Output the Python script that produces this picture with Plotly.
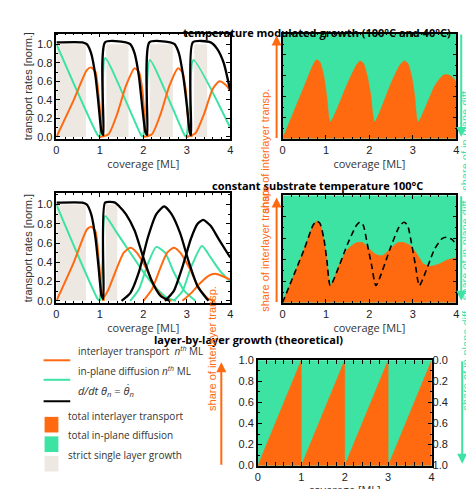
import plotly.graph_objects as go

OR = "#FF6A10"; GR = "#3DE3A3"; BG = "#EEE8E2"
FONT = "Liberation Sans"

# ---------- panel A: temperature modulated (rates) ----------
a_black_x = [0, 0.6, 0.7, 0.8, 0.9, 0.97, 1.04, 1.08, 1.12, 1.6, 1.7, 1.8, 1.9, 1.97, 2.05, 2.09, 2.14, 2.62, 2.72, 2.82, 2.92, 3.0, 3.07, 3.1, 3.14, 3.55, 3.7, 3.85, 4.0]
a_black_y = [1.02, 1.02, 1.0, 0.9, 0.65, 0.35, 0.05, 0.02, 1.02, 1.02, 1.0, 0.9, 0.65, 0.35, 0.05, 0.02, 1.02, 1.02, 1.0, 0.9, 0.65, 0.35, 0.05, 0.02, 1.02, 1.02, 0.95, 0.8, 0.5]
a_green = [
    ([0, 0.95, 1.0], [1.0, 0.02, 0.0]),
    ([1.0, 1.06, 1.12, 1.95, 2.0], [0.0, 0.35, 0.85, 0.02, 0.0]),
    ([2.0, 2.07, 2.15, 2.95, 3.0], [0.0, 0.35, 0.83, 0.02, 0.0]),
    ([3.0, 3.07, 3.15, 4.0], [0.0, 0.35, 0.83, 0.1]),
]
a_orange = [
    ([0, 0.4, 0.7, 0.8, 0.9, 0.97, 1.05, 1.1], [0.0, 0.4, 0.72, 0.75, 0.7, 0.45, 0.08, 0.0]),
    ([1.0, 1.2, 1.4, 1.6, 1.8, 1.9, 1.98, 2.05, 2.12], [0.0, 0.03, 0.25, 0.55, 0.74, 0.7, 0.5, 0.1, 0.0]),
    ([2.0, 2.2, 2.4, 2.6, 2.8, 2.9, 2.98, 3.05, 3.12], [0.0, 0.03, 0.25, 0.55, 0.74, 0.7, 0.5, 0.1, 0.0]),
    ([3.0, 3.2, 3.4, 3.6, 3.75, 3.9, 4.0], [0.0, 0.04, 0.25, 0.52, 0.6, 0.56, 0.5]),
]
a_shade = [(0, 0.68), (1.15, 1.66), (2.15, 2.68), (3.17, 3.47)]

# ---------- panel B: share (temperature modulated) ----------
b_x = [0, 0.5, 0.7, 0.78, 0.86, 0.95, 1.02, 1.1, 1.5, 1.7, 1.78, 1.86, 1.95, 2.03, 2.12, 2.5, 2.7, 2.8, 2.88, 2.97, 3.04, 3.12, 3.5, 3.68, 3.78, 3.9, 4.0]
b_y = [0.0, 0.5, 0.7, 0.75, 0.73, 0.6, 0.4, 0.16, 0.53, 0.7, 0.74, 0.72, 0.6, 0.42, 0.16, 0.53, 0.7, 0.74, 0.72, 0.6, 0.42, 0.16, 0.5, 0.6, 0.61, 0.59, 0.54]

# ---------- panel D: constant temperature (rates) ----------
d_black = [
    ([0, 0.6, 0.7, 0.8, 0.9, 0.97, 1.04, 1.08, 1.12, 1.35, 1.45, 1.6, 1.8, 2.0, 2.2, 2.4, 2.6], [1.02, 1.02, 1.0, 0.9, 0.65, 0.35, 0.05, 0.02, 1.02, 1.02, 0.98, 0.9, 0.73, 0.45, 0.2, 0.05, 0.0]),
    ([1.5, 1.7, 1.9, 2.1, 2.3, 2.48, 2.65, 2.85, 3.05, 3.25, 3.5], [0.0, 0.08, 0.3, 0.65, 0.9, 0.98, 0.9, 0.7, 0.4, 0.15, 0.0]),
    ([2.5, 2.7, 2.9, 3.1, 3.25, 3.38, 3.55, 3.75, 4.0], [0.0, 0.1, 0.35, 0.65, 0.8, 0.84, 0.78, 0.63, 0.45]),
]
d_green = [
    ([0, 0.95, 1.0], [1.0, 0.02, 0.0]),
    ([1.0, 1.06, 1.12, 1.4, 1.7, 2.0, 2.3, 2.55, 2.75], [0.0, 0.4, 0.88, 0.7, 0.5, 0.3, 0.13, 0.03, 0.0]),
    ([1.7, 1.9, 2.1, 2.3, 2.5, 2.7, 2.95, 3.2], [0.0, 0.12, 0.38, 0.56, 0.5, 0.3, 0.1, 0.0]),
    ([2.7, 2.9, 3.1, 3.35, 3.55, 3.75, 4.0], [0.0, 0.1, 0.35, 0.57, 0.45, 0.32, 0.2]),
]
d_orange = [
    ([0, 0.4, 0.7, 0.8, 0.9, 0.97, 1.05, 1.1], [0.0, 0.4, 0.74, 0.77, 0.72, 0.45, 0.08, 0.0]),
    ([1.05, 1.2, 1.4, 1.55, 1.7, 1.85, 2.05, 2.3, 2.5, 2.65], [0.0, 0.12, 0.35, 0.5, 0.55, 0.5, 0.35, 0.12, 0.02, 0.0]),
    ([2.0, 2.2, 2.4, 2.55, 2.7, 2.85, 3.05, 3.3, 3.5, 3.65], [0.0, 0.12, 0.35, 0.5, 0.55, 0.5, 0.35, 0.12, 0.02, 0.0]),
    ([2.9, 3.1, 3.3, 3.5, 3.65, 3.8, 4.0], [0.0, 0.08, 0.18, 0.26, 0.28, 0.26, 0.22]),
]
d_shade = [(0, 0.68), (1.14, 1.4)]

# ---------- panel C: share (constant temperature) ----------
c_x = [0, 0.5, 0.7, 0.78, 0.86, 0.95, 1.02, 1.1, 1.3, 1.5, 1.7, 1.85, 2.0, 2.15, 2.3, 2.45, 2.65, 2.8, 2.95, 3.1, 3.25, 3.4, 3.6, 3.8, 4.0]
c_y = [0.0, 0.5, 0.72, 0.76, 0.74, 0.6, 0.4, 0.16, 0.35, 0.5, 0.56, 0.56, 0.5, 0.45, 0.44, 0.49, 0.56, 0.56, 0.53, 0.45, 0.36, 0.34, 0.36, 0.4, 0.42]
c_dash_x = [0, 0.5, 0.7, 0.78, 0.86, 0.95, 1.02, 1.1, 1.5, 1.7, 1.78, 1.86, 1.95, 2.05, 2.15, 2.5, 2.7, 2.8, 2.88, 2.97, 3.06, 3.15, 3.5, 3.68, 3.78, 3.9, 4.0]
c_dash_y = [0.0, 0.5, 0.72, 0.76, 0.74, 0.6, 0.4, 0.16, 0.55, 0.72, 0.75, 0.72, 0.55, 0.35, 0.16, 0.53, 0.72, 0.75, 0.72, 0.55, 0.35, 0.16, 0.5, 0.6, 0.61, 0.59, 0.54]

# ---------- panel E: layer-by-layer ----------
e_x = [0, 1, 1, 2, 2, 3, 3, 4]
e_y = [0, 1, 0, 1, 0, 1, 0, 1]

fig = go.Figure()
tick_x = [0, 1, 2, 3, 4]

def ax_common(**kw):
    d = dict(showline=True, linecolor="black", linewidth=1.5, mirror="allticks", ticks="inside",
             ticklen=4, tickcolor="black", showgrid=False, zeroline=False,
             tickfont=dict(family=FONT, size=11, color="#222"),
             minor=dict(ticks="inside", ticklen=2, tickcolor="black"))
    d.update(kw)
    return d

H, W = 489, 474
def dom_x(a, b): return [a / W, b / W]
def dom_y(t, b): return [1 - b / H, 1 - t / H]

panels = {
    1: (dom_x(46, 222), dom_y(20, 128)),   # A
    2: (dom_x(275, 451), dom_y(20, 128)),  # B
    3: (dom_x(46, 222), dom_y(184, 296)),  # D
    4: (dom_x(275, 451), dom_y(186, 296)), # C
    5: (dom_x(250, 426), dom_y(355, 463)), # E
}
ctitle = dict(text="coverage [ML]", font=dict(family="Open Sans", size=11, color="#333"), standoff=2)
for i, (dx, dy) in panels.items():
    xs = "xaxis" if i == 1 else f"xaxis{i}"
    ys = "yaxis" if i == 1 else f"yaxis{i}"
    left = i in (1, 3)
    yk = dict(domain=dy, anchor=f"x{i if i > 1 else ''}")
    if left:
        yk.update(range=[-0.02, 1.115], tickvals=[0, 0.2, 0.4, 0.6, 0.8, 1.0], ticktext=["0.0", "0.2", "0.4", "0.6", "0.8", "1.0"],
                  title=dict(text="transport rates [norm.]", font=dict(family=FONT, size=11, color="#333"), standoff=2),
                  minor=dict(ticks="inside", ticklen=2, tickcolor="black", dtick=0.1))
    elif i == 5:
        yk.update(range=[0, 1], tickvals=[0, 0.2, 0.4, 0.6, 0.8, 1.0], ticktext=["0.0", "0.2", "0.4", "0.6", "0.8", "1.0"],
                  minor=dict(ticks="inside", ticklen=2, tickcolor="black", dtick=0.1))
    else:
        yk.update(range=[0, 1], dtick=0.2, showticklabels=False,
                  minor=dict(ticks="inside", ticklen=2, tickcolor="black", dtick=0.1))
    fig.layout[xs] = ax_common(domain=dx, range=[0, 4], tickvals=tick_x, anchor=f"y{i if i > 1 else ''}",
                               title=ctitle, minor=dict(ticks="inside", ticklen=2, tickcolor="black", dtick=0.2))
    fig.layout[ys] = ax_common(**yk)
    if i == 5:
        fig.layout[ys].mirror = "ticks"

# right-side labels for panel E
fig.update_layout(yaxis6=ax_common(overlaying="y5", side="right", range=[1, 0], anchor="x5",
                                    tickvals=[0, 0.2, 0.4, 0.6, 0.8, 1.0], ticktext=["0.0", "0.2", "0.4", "0.6", "0.8", "1.0"],
                                    showline=False, ticks="", minor=dict(ticks="")))

def xr(i): return "x" if i == 1 else f"x{i}"
def yr(i): return "y" if i == 1 else f"y{i}"

# shading
shapes = []
for i, sh in ((1, a_shade), (3, d_shade)):
    for s0, s1 in sh:
        shapes.append(dict(type="rect", xref=xr(i), yref=yr(i), x0=s0, x1=s1, y0=0, y1=1.0,
                           fillcolor=BG, line_width=0, layer="below"))
for i in (2, 4, 5):
    shapes.append(dict(type="rect", xref=f"x{i} domain", yref=f"y{i} domain", x0=0, x1=1, y0=0, y1=1,
                       fillcolor=GR, line_width=0, layer="below"))

def line(i, x, y, c, w=2, dash=None, shape="spline"):
    fig.add_trace(go.Scatter(x=x, y=y, mode="lines", line=dict(color=c, width=w, shape=shape, dash=dash, smoothing=0.6),
                             xaxis=xr(i), yaxis=yr(i), showlegend=False, hoverinfo="skip"))

for x, y in a_green: line(1, x, y, GR)
for x, y in a_orange: line(1, x, y, OR)
line(1, a_black_x, a_black_y, "black", 2.3)
for x, y in d_green: line(3, x, y, GR)
for x, y in d_orange: line(3, x, y, OR)
for x, y in d_black: line(3, x, y, "black", 2.3)

def fillt(i, x, y, shape="spline"):
    fig.add_trace(go.Scatter(x=x, y=y, mode="lines", fill="tozeroy", fillcolor=OR,
                             line=dict(color=OR, width=0.5, shape=shape, smoothing=0.6),
                             xaxis=xr(i), yaxis=yr(i), showlegend=False, hoverinfo="skip"))
fillt(2, b_x, b_y)
fillt(4, c_x, c_y)
line(4, c_dash_x, c_dash_y, "black", 1.6, dash="6px,4px")
fillt(5, e_x, e_y, shape="linear")
# dummy trace to activate the right axis of panel E
fig.add_trace(go.Scatter(x=[0], y=[0], mode="markers", marker=dict(opacity=0), xaxis="x5", yaxis="y6",
                         showlegend=False, hoverinfo="skip"))

# titles
ann = []
tf = dict(family="Open Sans", size=11, color="black")
def T(x, y, t, **kw):
    d = dict(x=x / W, y=1 - y / H, xref="paper", yref="paper", text=t, showarrow=False, font=tf)
    d.update(kw); ann.append(d)
T(310, 9, "<b>temperature modulated growth (100°C and 40°C)</b>")
T(310, 176, "<b>constant substrate temperature 100°C</b>")
T(338, 343, "<b>layer-by-layer growth (theoretical)</b>")

sf = dict(family=FONT, size=11)
for (xo, xt, xg, xgt, yt, yb) in ((269, 257, 456, 468, 20, 128), (269, 257, 456, 468, 186, 296), (213, 204, 457, 469, 355, 463)):
    L = yb - yt - 4
    ann.append(dict(x=xo / W, y=1 - (yt + 2) / H, ax=0, ay=L, xref="paper", yref="paper",
                    axref="pixel", ayref="pixel", showarrow=True, arrowhead=2, arrowsize=1, arrowwidth=2,
                    arrowcolor=OR, text=""))
    ann.append(dict(x=xg / W, y=1 - (yb - 2) / H, ax=0, ay=-L, xref="paper", yref="paper",
                    axref="pixel", ayref="pixel", showarrow=True, arrowhead=2, arrowsize=1, arrowwidth=2,
                    arrowcolor=GR, text=""))
    T(xt, (yt + yb) / 2, "share of interlayer transp.", textangle=-90, font=dict(sf, color=OR))
    T(xgt, (yt + yb) / 2, "share of in-plane diff.", textangle=-90, font=dict(sf, color=GR))

# legend (manual)
lf = dict(family="Open Sans", size=10, color="#333")
legend_rows = [
    ("line", OR, "interlayer transport  <i>n<sup>th</sup></i> ML", 355),
    ("line", GR, "in-plane diffusion <i>n<sup>th</sup></i> ML", 375),
    ("line", "black", "<i>d/dt θ<sub>n</sub></i> = <i>θ̇<sub>n</sub></i>", 397),
    ("box", OR, "total interlayer transport", 421),
    ("box", GR, "total in-plane diffusion", 441),
    ("box", BG, "strict single layer growth", 461),
]
for kind, c, t, yy in legend_rows:
    if kind == "line":
        shapes.append(dict(type="line", xref="paper", yref="paper", x0=33 / W, x1=60 / W, y0=1 - yy / H, y1=1 - yy / H,
                           line=dict(color=c, width=2)))
        T(66, yy, t, xanchor="left", font=dict(lf, size=11 if "θ" in t else 10))
    else:
        shapes.append(dict(type="rect", xref="paper", yref="paper", x0=34 / W, x1=48 / W, y0=1 - (yy + 8) / H,
                           y1=1 - (yy - 8) / H, fillcolor=c, line_width=0))
        T(56, yy, t, xanchor="left", font=lf)

fig.update_layout(width=W, height=H, margin=dict(l=0, r=0, t=0, b=0), paper_bgcolor="white",
                  plot_bgcolor="white", shapes=shapes, annotations=ann, showlegend=False)
fig.write_html("out.html")
